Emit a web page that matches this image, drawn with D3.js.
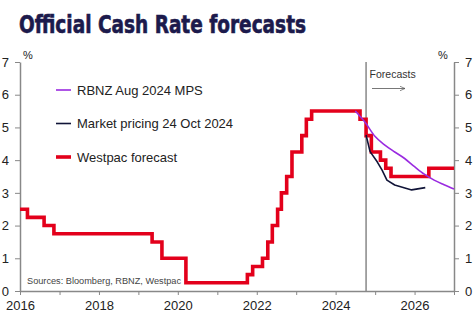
<!DOCTYPE html>
<html>
<head>
<meta charset="utf-8">
<script src="https://cdn.jsdelivr.net/npm/d3@7"></script>
<style>
  body { margin: 0; background: #fff; }
  text { font-family: "Liberation Sans", Arial, sans-serif; }
</style>
</head>
<body>
<div id="chart"></div>
<script>
// OCR history + Westpac forecast (step series, date the rate took effect)
const westpac = [
  ['2016-01-01', 2.5], ['2016-03-10', 2.25], ['2016-08-11', 2.0], ['2016-11-10', 1.75],
  ['2019-05-08', 1.5], ['2019-08-07', 1.0], ['2020-03-16', 0.25], ['2021-10-06', 0.5],
  ['2021-11-24', 0.75], ['2022-02-23', 1.0], ['2022-04-13', 1.5], ['2022-05-25', 2.0],
  ['2022-07-13', 2.5], ['2022-08-17', 3.0], ['2022-10-05', 3.5], ['2022-11-23', 4.25],
  ['2023-02-22', 4.75], ['2023-04-05', 5.25], ['2023-05-24', 5.5], ['2024-08-14', 5.25],
  ['2024-10-09', 4.75], ['2024-11-27', 4.25], ['2025-02-19', 4.0], ['2025-04-09', 3.75],
  ['2025-05-28', 3.5], ['2026-05-13', 3.75], ['2027-01-01', 3.75]
];
const rbnzMps = [
  ['2024-07-01', 5.5], ['2024-10-01', 5.15], ['2025-01-01', 4.72], ['2025-04-01', 4.46],
  ['2025-07-01', 4.25], ['2025-10-01', 4.05], ['2026-01-01', 3.8], ['2026-04-01', 3.57],
  ['2026-07-01', 3.39], ['2026-10-01', 3.25], ['2027-01-01', 3.12]
];
const marketPricing = [
  ['2024-10-09', 4.77], ['2024-11-15', 4.26], ['2025-01-20', 3.95], ['2025-03-05', 3.7],
  ['2025-04-20', 3.39], ['2025-07-01', 3.24], ['2025-12-05', 3.09], ['2026-04-10', 3.16]
];
const forecastStart = '2024-10-09';
const yTicks = [0, 1, 2, 3, 4, 5, 6, 7];
const legendItems = [
  { name: 'RBNZ Aug 2024 MPS', color: '#9a2be0', width: 1.6 },
  { name: 'Market pricing 24 Oct 2024', color: '#101438', width: 1.6 },
  { name: 'Westpac forecast', color: '#e3001b', width: 3.6 }
];

const parse = d3.timeParse('%Y-%m-%d');
const width = 474, height = 335;
const axisColor = '#888';

const svg = d3.select('#chart').append('svg')
  .attr('width', width)
  .attr('height', height);

svg.append('text')
  .attr('x', 19)
  .attr('y', 33)
  .attr('fill', '#1c1a4c')
  .attr('stroke', '#1c1a4c')
  .attr('stroke-width', 0.6)
  .style('font-family', '"DejaVu Sans Condensed", "DejaVu Sans", sans-serif')
  .style('font-weight', 'bold')
  .style('font-size', '24px')
  .attr('textLength', 287)
  .attr('lengthAdjust', 'spacingAndGlyphs')
  .text('Official Cash Rate forecasts');

const x = d3.scaleTime()
  .domain([new Date(2016, 0, 1), new Date(2027, 0, 1)])
  .range([20, 454]);
const y = d3.scaleLinear()
  .domain([0, 7])
  .range([291, 62]);

// axes
const xAxis = d3.axisBottom(x)
  .ticks(d3.timeYear.every(1))
  .tickSize(4)
  .tickSizeOuter(0)
  .tickPadding(6)
  .tickFormat(d => d.getFullYear() % 2 === 0 ? d.getFullYear() : '');
const gx = svg.append('g').attr('transform', 'translate(0,' + y(0) + ')').call(xAxis);

const gl = svg.append('g').attr('transform', 'translate(' + x.range()[0] + ',0)')
  .call(d3.axisLeft(y).tickValues(yTicks).tickFormat(d3.format('d')).tickSize(5).tickSizeOuter(0).tickPadding(6));
const gr = svg.append('g').attr('transform', 'translate(' + x.range()[1] + ',0)')
  .call(d3.axisRight(y).tickValues(yTicks).tickFormat(d3.format('d')).tickSize(5).tickSizeOuter(0).tickPadding(6));

[gx, gl, gr].forEach(g => {
  g.select('.domain').attr('stroke', axisColor).attr('stroke-width', 1.5);
  g.selectAll('.tick line').attr('stroke', axisColor);
  g.selectAll('.tick text').attr('fill', '#222').style('font-size', '13px')
    .style('font-family', '"Liberation Sans", Arial, sans-serif');
});

svg.append('text').attr('x', 23).attr('y', 59).attr('fill', '#222')
  .style('font-size', '11px').text('%');
svg.append('text').attr('x', 438).attr('y', 59).attr('fill', '#222')
  .style('font-size', '11px').text('%');

// forecast divider
svg.append('line')
  .attr('x1', x(parse(forecastStart))).attr('x2', x(parse(forecastStart)))
  .attr('y1', y(7)).attr('y2', y(0))
  .attr('stroke', axisColor).attr('stroke-width', 1.5);

svg.append('text')
  .attr('x', x(parse(forecastStart)) + 3.5)
  .attr('y', 78)
  .attr('fill', '#333')
  .style('font-size', '10.5px')
  .text('Forecasts');

svg.append('defs').append('marker')
  .attr('id', 'arrow')
  .attr('viewBox', '0 0 10 10')
  .attr('refX', 9).attr('refY', 5)
  .attr('markerWidth', 7).attr('markerHeight', 7)
  .attr('orient', 'auto')
  .append('path')
  .attr('d', 'M0,1 L9,5 L0,9')
  .attr('fill', 'none')
  .attr('stroke', '#555')
  .attr('stroke-width', 1.2);

svg.append('line')
  .attr('x1', 372).attr('x2', 405)
  .attr('y1', 88.5).attr('y2', 88.5)
  .attr('stroke', '#555').attr('stroke-width', 0.8)
  .attr('marker-end', 'url(#arrow)');

svg.append('text')
  .attr('x', 27).attr('y', 284)
  .attr('fill', '#444')
  .style('font-size', '9.2px')
  .text('Sources: Bloomberg, RBNZ,  Westpac');

// series
const lineStep = d3.line().x(d => x(parse(d[0]))).y(d => y(d[1])).curve(d3.curveStepAfter);
const lineSmooth = d3.line().x(d => x(parse(d[0]))).y(d => y(d[1])).curve(d3.curveMonotoneX);
const lineStraight = d3.line().x(d => x(parse(d[0]))).y(d => y(d[1]));

svg.append('path').datum(westpac)
  .attr('d', lineStep)
  .attr('fill', 'none')
  .attr('stroke', legendItems[2].color)
  .attr('stroke-width', legendItems[2].width);

svg.append('path').datum(rbnzMps)
  .attr('d', lineSmooth)
  .attr('fill', 'none')
  .attr('stroke', legendItems[0].color)
  .attr('stroke-width', legendItems[0].width);

svg.append('path').datum(marketPricing)
  .attr('d', lineStraight)
  .attr('fill', 'none')
  .attr('stroke', legendItems[1].color)
  .attr('stroke-width', legendItems[1].width)
  .attr('stroke-linejoin', 'round');

// legend
const legend = svg.append('g').selectAll('g')
  .data(legendItems)
  .enter()
  .append('g')
  .attr('transform', (d, i) => 'translate(56,' + (90 + i * 33.5) + ')');
legend.append('line')
  .attr('x1', 0).attr('x2', 15)
  .attr('stroke', d => d.color)
  .attr('stroke-width', d => d.width);
legend.append('text')
  .attr('x', 21).attr('y', 4.6)
  .attr('fill', '#222')
  .style('font-size', '13px')
  .text(d => d.name);
</script>
</body>
</html>
